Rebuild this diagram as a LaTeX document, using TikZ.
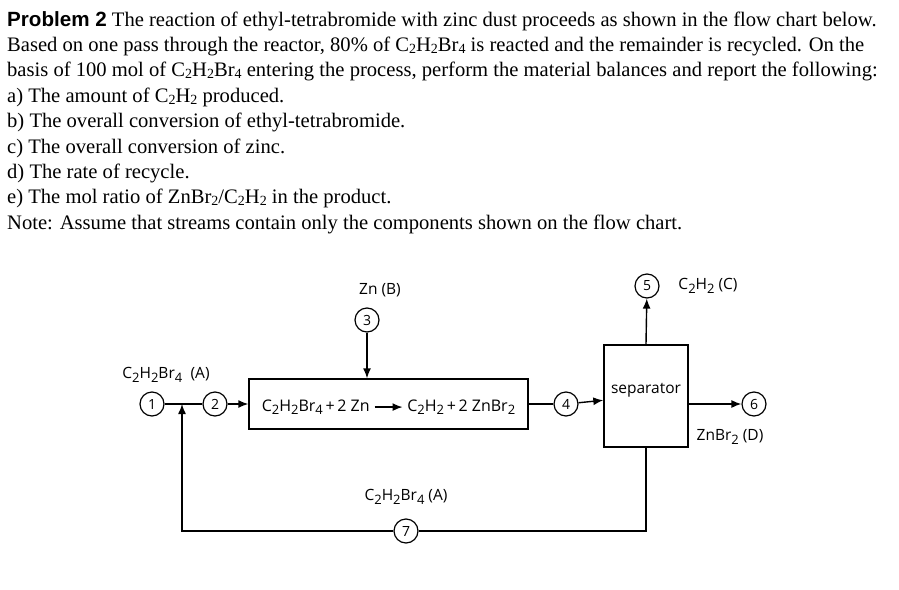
\documentclass[tikz,border=0pt]{standalone}
\usepackage{fontspec}
\setmainfont{Liberation Serif}
\newfontfamily\diag{Open Sans}
\newfontfamily\hdr{Liberation Sans}
\usetikzlibrary{arrows.meta}
\newcommand{\lsub}[1]{\raisebox{-0.4ex}{\fontsize{13}{14}\selectfont #1}}
\newcommand{\tsub}[1]{\raisebox{-0.3ex}{\fontsize{14}{15}\selectfont #1}}
\begin{document}
\begin{tikzpicture}[x=1pt,y=-1pt,
  txt/.style={anchor=base west,inner sep=0,font=\fontsize{20.6}{22}\selectfont},
  lbl/.style={inner sep=0,font=\diag\fontsize{15.5}{17}\selectfont},
  num/.style={circle,draw,line width=1.2pt,minimum size=24,inner sep=0,font=\diag\fontsize{14}{15}\selectfont},
  box/.style={draw,line width=1.4pt},
  ln/.style={line width=1.4pt},
  arr/.style={ln,-{Latex[length=10,width=8]}}]
\useasboundingbox (0,0) rectangle (899,589);
\node[txt] (t1) at (7,26) {{\hdr\bfseries Problem 2} The reaction of ethyl-tetrabromide with zinc dust proceeds as shown in the flow chart below.};
\node[txt] (t2) at (7,51) {Based on one pass through the reactor, 80\% of C\tsub{2}H\tsub{2}Br\tsub{4} is reacted and the remainder is recycled. On the};
\node[txt] (t3) at (7,76) {basis of 100 mol of C\tsub{2}H\tsub{2}Br\tsub{4} entering the process, perform the material balances and report the following:};
\node[txt] (t4) at (7,102) {a) The amount of C\tsub{2}H\tsub{2} produced.};
\node[txt] (t5) at (7,127) {b) The overall conversion of ethyl-tetrabromide.};
\node[txt] (t6) at (7,153) {c) The overall conversion of zinc.};
\node[txt] (t7) at (7,178) {d) The rate of recycle.};
\node[txt] (t8) at (7,203) {e) The mol ratio of ZnBr\tsub{2}/C\tsub{2}H\tsub{2} in the product.};
\node[txt] (t9) at (7,229) {Note: Assume that streams contain only the components shown on the flow chart.};

\node[num] (n1) at (152,404) {1};
\node[num] (n2) at (215,404) {2};
\node[num] (n3) at (367,320) {3};
\node[num] (n4) at (566,404) {4};
\node[num] (n5) at (647,286) {5};
\node[num] (n6) at (754,404) {6};
\node[num] (n7) at (406,531) {7};
\node[box,minimum width=279,minimum height=50,inner sep=0] (R) at (388.5,404) {};
\node[lbl,font=\diag\fontsize{16}{17}\selectfont] (rt) at (388.5,407) {C\lsub{2}H\lsub{2}Br\lsub{4}\,+\,2 Zn \tikz[baseline=-4]{\draw[-{Latex[length=10,width=8]},line width=1.4pt](0,0)--(28,0);} C\lsub{2}H\lsub{2}\,+\,2 ZnBr\lsub{2}};
\node[box,minimum width=84,minimum height=102,inner sep=0] (S) at (646,396) {};
\node[lbl] (st) at (646,390) {separator};
\coordinate (j) at (182,404);
\coordinate (jb) at (182,531);
\coordinate (sb) at (646,531);

\node[lbl] (la) at (166,375) {C\lsub{2}H\lsub{2}Br\lsub{4}\; (A)};
\node[lbl] (lb) at (380,290) {Zn (B)};
\node[lbl] (lc) at (708,286) {C\lsub{2}H\lsub{2} (C)};
\node[lbl] (ld) at (730,437) {ZnBr\lsub{2} (D)};
\node[lbl] (le) at (406,497) {C\lsub{2}H\lsub{2}Br\lsub{4} (A)};

\draw[ln] (n1) -- (n2);
\draw[arr] (n2) -- (R);
\draw[arr] (n3) -- (R.north -| n3);
\draw[ln] (R) -- (n4);
\draw[arr] (n4) -- (S);
\draw[arr] (S.north) -- (n5);
\draw[arr] (S.east |- n6) -- (n6);
\draw[ln] (S.south) -- (sb) -- (n7);
\draw[arr] (n7) -- (jb) -- (j);
\end{tikzpicture}
\end{document}
